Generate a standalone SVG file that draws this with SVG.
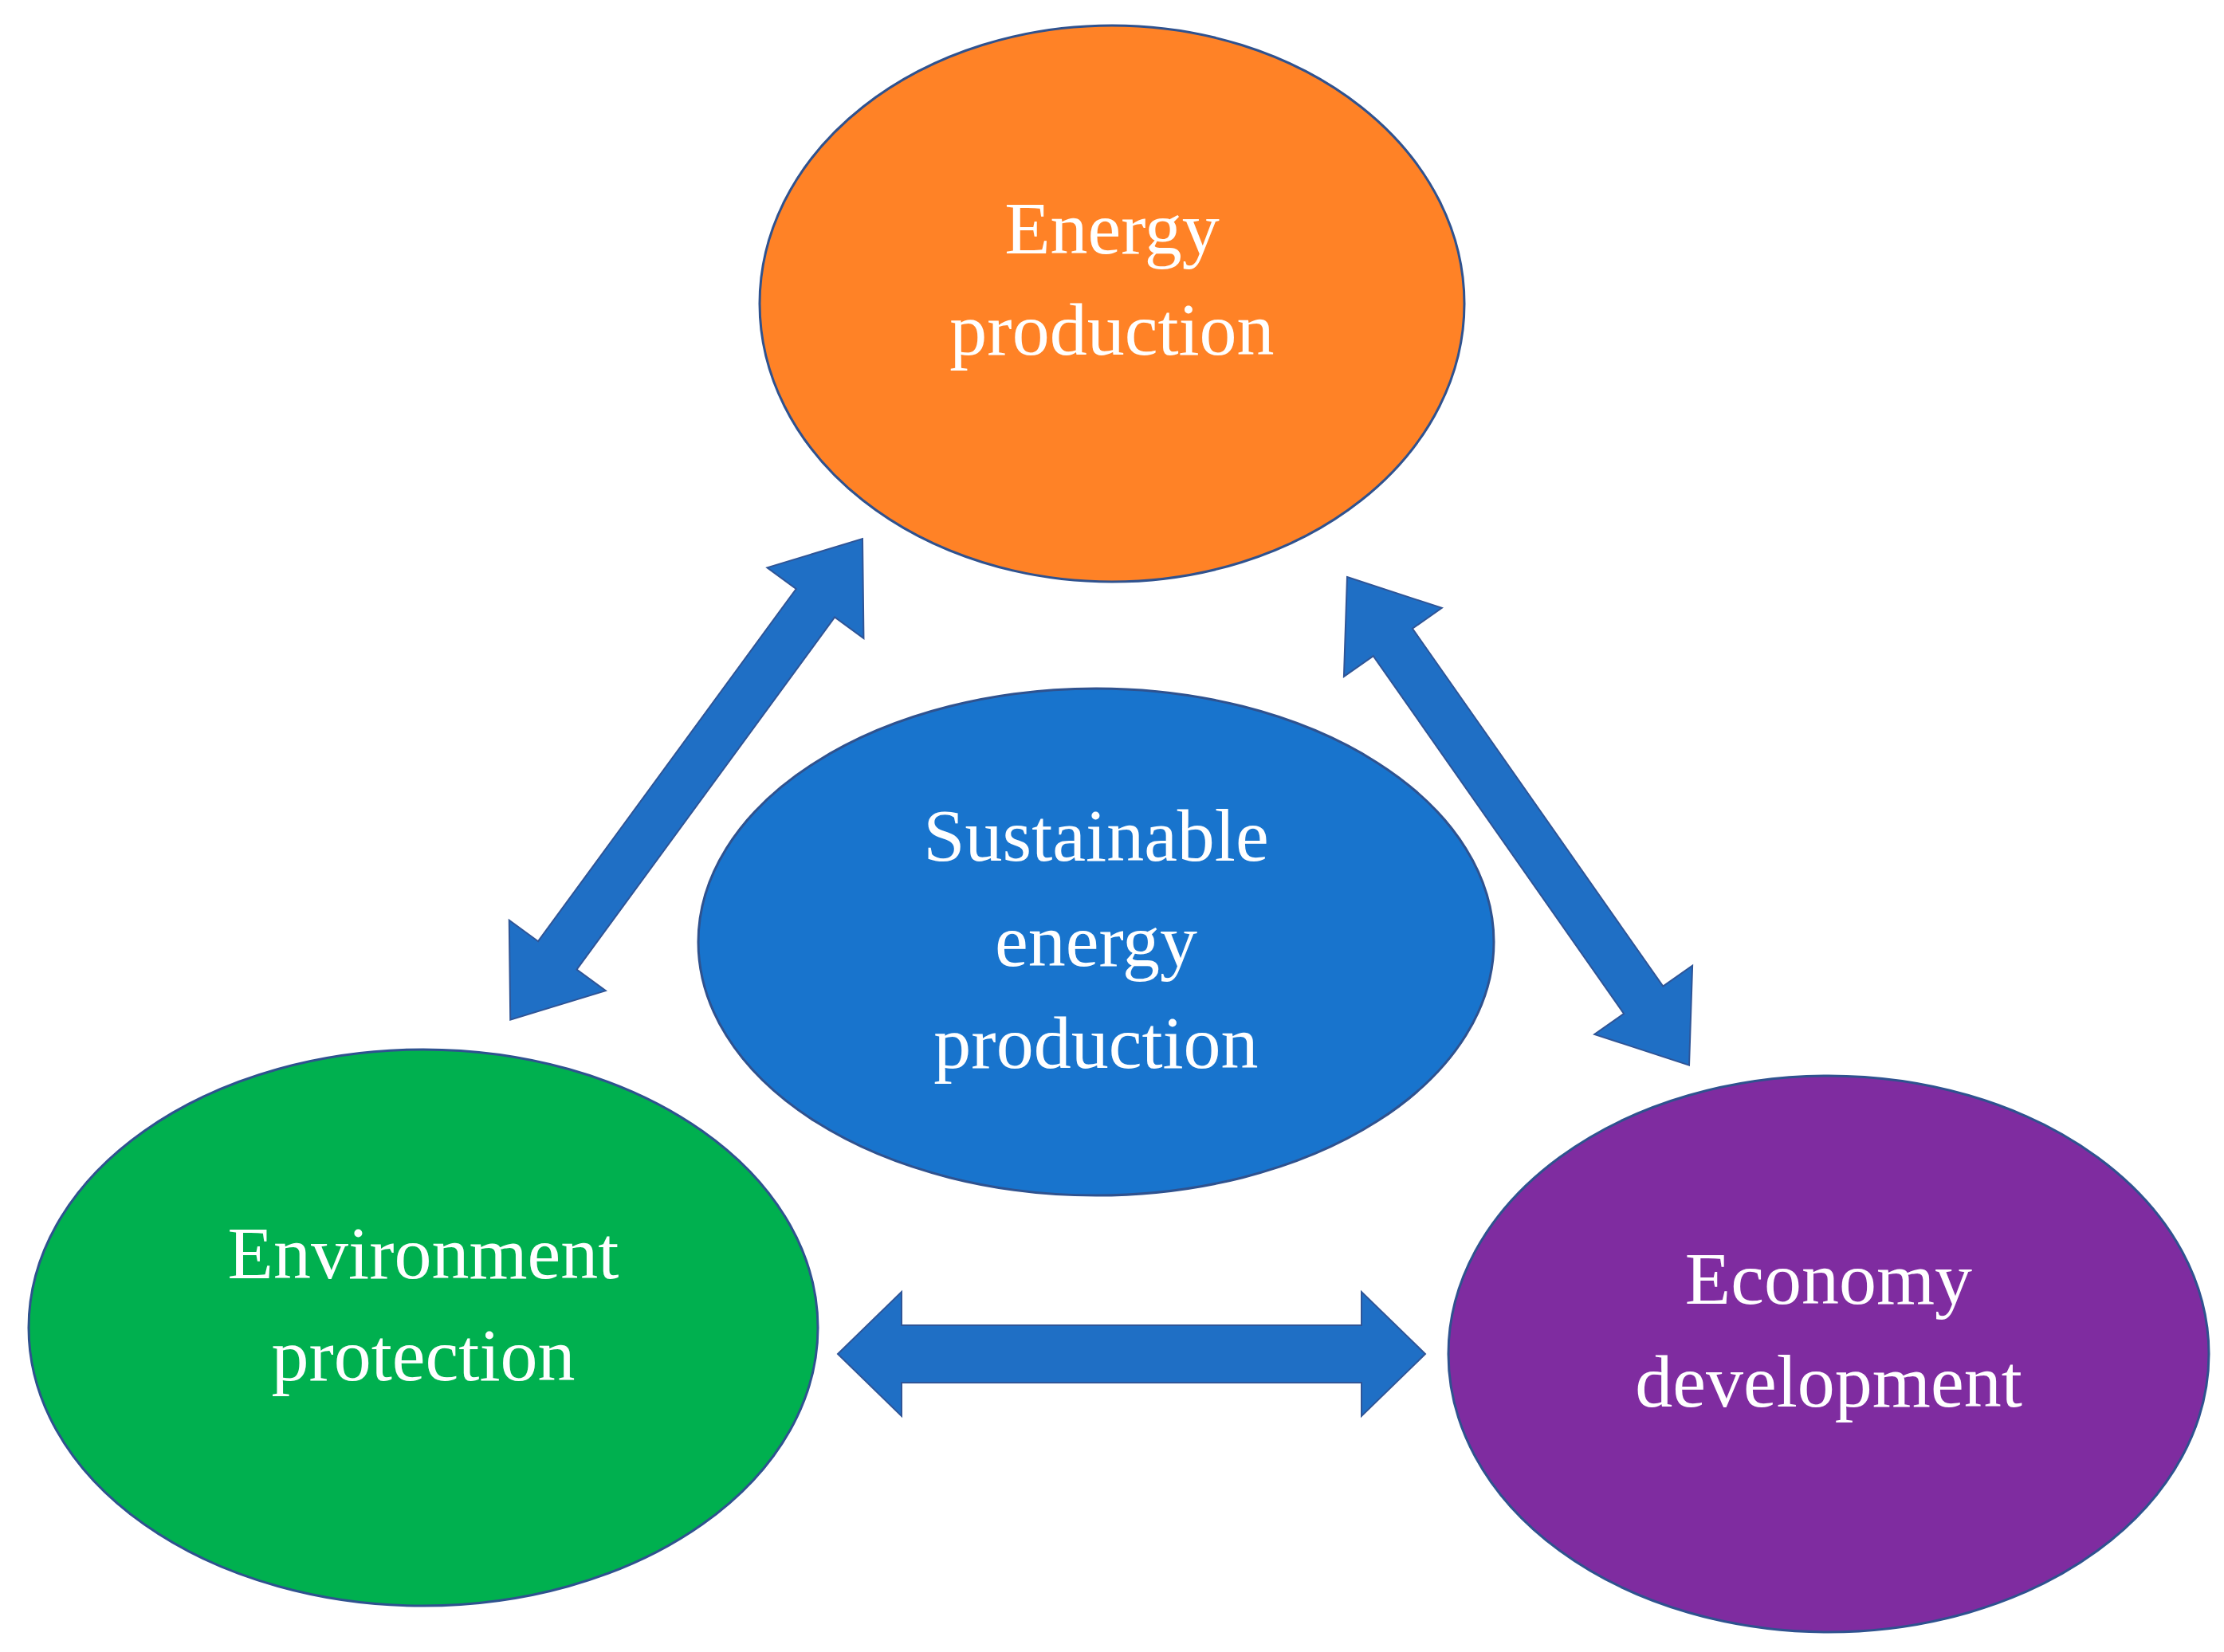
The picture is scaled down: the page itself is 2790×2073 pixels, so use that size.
<svg xmlns="http://www.w3.org/2000/svg" width="2790" height="2073" viewBox="0 0 2790 2073">
<style>
.n{stroke:#2F528F;stroke-width:3}
.t{font-family:"Liberation Serif",serif;font-size:94px;fill:#fff;text-anchor:middle}
.a{fill:#1F6FC5;stroke:#2F5597;stroke-width:2}
</style>
<rect width="2790" height="2073" fill="#fff"/>
<g id="connectors">
<polygon class="a" transform="translate(1082,676) rotate(126.2)" points="0,0 100,-75 100,-30 648,-30 648,-75 748,0 648,75 648,30 100,30 100,75"/>
<polygon class="a" transform="translate(1690,724) rotate(55)" points="0,0 100,-75 100,-30 648,-30 648,-75 748,0 648,75 648,30 100,30 100,75"/>
<polygon class="a" transform="translate(1051,1699)" points="0,0 80,-78 80,-36 657,-36 657,-78 737,0 657,78 657,36 80,36 80,78"/>
</g>
<g id="energy">
<ellipse class="n" cx="1395" cy="381" rx="442" ry="349" fill="#FF8226"/>
<text class="t" x="1395" y="318">Energy</text>
<text class="t" x="1395" y="445">production</text>
</g>
<g id="sustainable">
<ellipse class="n" cx="1375" cy="1182" rx="499" ry="318" fill="#1874CD"/>
<text class="t" x="1375" y="1080">Sustainable</text>
<text class="t" x="1375" y="1212">energy</text>
<text class="t" x="1375" y="1340">production</text>
</g>
<g id="environment">
<ellipse class="n" cx="531" cy="1666" rx="495" ry="349" fill="#00B04F"/>
<text class="t" x="531" y="1604">Environment</text>
<text class="t" x="531" y="1732">protection</text>
</g>
<g id="economy">
<ellipse class="n" cx="2294" cy="1699" rx="477" ry="349" fill="#7F2CA0"/>
<text class="t" x="2294" y="1636">Economy</text>
<text class="t" x="2294" y="1765">development</text>
</g>
</svg>
